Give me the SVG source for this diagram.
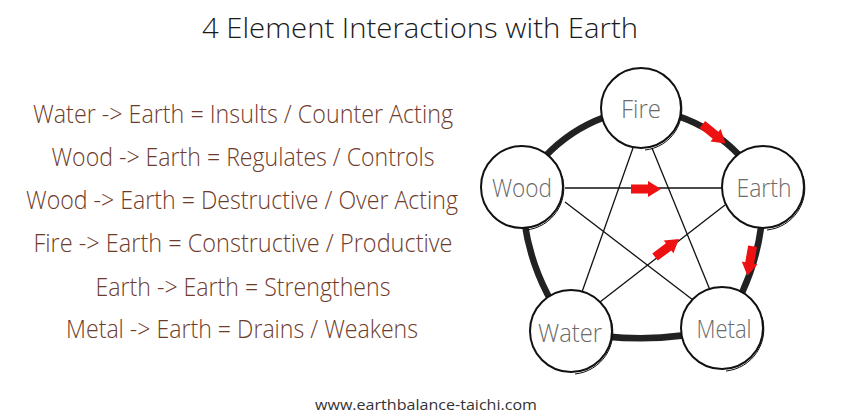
<svg xmlns="http://www.w3.org/2000/svg" width="850" height="414" viewBox="0 0 850 414">
<style>
.title{font-family:"Open Sans","Liberation Sans",sans-serif;font-weight:300;font-size:28px;fill:#1a1a1a;text-anchor:middle}
.rel{font-family:"Open Sans","Liberation Sans",sans-serif;font-weight:300;font-size:25px;fill:#6e3b2b;text-anchor:middle}
.foot{font-family:"Open Sans","DejaVu Sans",sans-serif;font-size:15px;fill:#333;text-anchor:middle}
.node circle{fill:#fff;stroke:#111;stroke-width:2}
.node .sk{fill:none;stroke:#111;stroke-width:1}
.node text{font-family:"Open Sans","Liberation Sans",sans-serif;font-weight:300;font-size:26px;fill:#6a6a6a;text-anchor:middle}
.ln{stroke:#111;stroke-width:1.3;fill:none}
.ring{stroke:#222;stroke-width:6.5;fill:none;stroke-linecap:butt}
.arr{fill:#ee1111}
</style>
<defs>
<path id="ar" d="M-15,-4.5 L2,-4.5 L2,-8 L15,0 L2,8 L2,4.5 L-15,4.5 Z"/>
</defs>
<rect width="850" height="414" fill="#fff"/>
<text class="title" x="420" y="38" textLength="436" lengthAdjust="spacingAndGlyphs">4 Element Interactions with Earth</text>
<g id="relations">
<text class="rel" x="243" y="123" textLength="420" lengthAdjust="spacingAndGlyphs">Water -&gt; Earth = Insults / Counter Acting</text>
<text class="rel" x="243" y="166" textLength="383" lengthAdjust="spacingAndGlyphs">Wood -&gt; Earth = Regulates / Controls</text>
<text class="rel" x="242" y="209" textLength="432" lengthAdjust="spacingAndGlyphs">Wood -&gt; Earth = Destructive / Over Acting</text>
<text class="rel" x="243" y="252" textLength="419" lengthAdjust="spacingAndGlyphs">Fire -&gt; Earth = Constructive / Productive</text>
<text class="rel" x="243" y="296" textLength="295" lengthAdjust="spacingAndGlyphs">Earth -&gt; Earth = Strengthens</text>
<text class="rel" x="242" y="338" textLength="352" lengthAdjust="spacingAndGlyphs">Metal -&gt; Earth = Drains / Weakens</text>
</g>
<g id="connectors">
<path class="ring" d="M522,187 Q563,119.5 641,108"/>
<path class="ring" d="M641,108 Q721.6,117.3 763,187"/>
<path class="ring" d="M763,187 Q765.5,264 722,328"/>
<path class="ring" d="M722,328 Q647,347 571,331"/>
<path class="ring" d="M571,331 Q522,267.4 522,187"/>
<line class="ln" x1="633" y1="148" x2="582" y2="292"/>
<line class="ln" x1="652" y1="148" x2="710" y2="290"/>
<line class="ln" x1="565" y1="188" x2="722" y2="188"/>
<line class="ln" x1="565" y1="202" x2="693" y2="300"/>
<line class="ln" x1="600" y1="302" x2="725" y2="205"/>
<use href="#ar" class="arr" transform="translate(714,134) rotate(39)"/>
<use href="#ar" class="arr" transform="translate(750,261) rotate(100)"/>
<use href="#ar" class="arr" transform="translate(646,189)"/>
<use href="#ar" class="arr" transform="translate(667,248) rotate(-37)"/>
</g>
<g id="fire" class="node">
<circle cx="641" cy="108" r="40"/>
<path class="sk" d="M680,97 A41,41 0 0 1 645,150"/>
<text x="641" y="118" textLength="40" lengthAdjust="spacingAndGlyphs">Fire</text>
</g>
<g id="wood" class="node">
<circle cx="522" cy="187" r="41"/>
<path class="sk" d="M562,176 A42,42 0 0 1 526,230"/>
<text x="522" y="197" textLength="60" lengthAdjust="spacingAndGlyphs">Wood</text>
</g>
<g id="earth" class="node">
<circle cx="763" cy="187" r="41"/>
<path class="sk" d="M803,176 A42,42 0 0 1 767,230"/>
<text x="764" y="197" textLength="55" lengthAdjust="spacingAndGlyphs">Earth</text>
</g>
<g id="water" class="node">
<circle cx="571" cy="331" r="41"/>
<path class="sk" d="M611,320 A42,42 0 0 1 575,374"/>
<text x="570" y="342" textLength="64" lengthAdjust="spacingAndGlyphs">Water</text>
</g>
<g id="metal" class="node">
<circle cx="722" cy="328" r="41"/>
<path class="sk" d="M762,317 A42,42 0 0 1 726,371"/>
<text x="724" y="338" textLength="55" lengthAdjust="spacingAndGlyphs">Metal</text>
</g>
<text class="foot" x="426" y="410" textLength="222" lengthAdjust="spacingAndGlyphs">www.earthbalance-taichi.com</text>
</svg>
